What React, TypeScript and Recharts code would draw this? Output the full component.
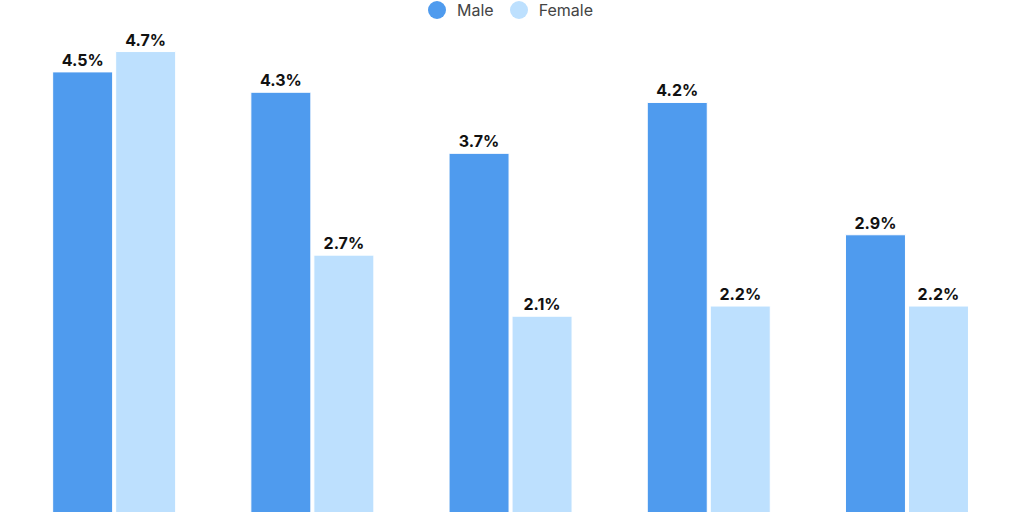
import React from 'react';
import { BarChart, Bar, XAxis, YAxis, Legend, LabelList } from 'recharts';

const MALE = '#4f9bee';
const FEMALE = '#bde0fe';

const groups = ['Group 1', 'Group 2', 'Group 3', 'Group 4', 'Group 5'];
const maleRates = [4.5, 4.3, 3.7, 4.2, 2.9];
const femaleRates = [4.7, 2.7, 2.1, 2.2, 2.2];
const seriesNames = ['Male', 'Female'];
const seriesColors = [MALE, FEMALE];

const rows = groups.map((g, i) => ({ group: g, Male: maleRates[i], Female: femaleRates[i] }));

const pct = (v: number) => `${v.toFixed(1)}%`;

// legend kept in series order (Recharts sorts it by name otherwise)
function SeriesLegend() {
  return (
    <div style={{ display: 'flex', justifyContent: 'center', alignItems: 'center', height: 20, fontSize: 16, color: '#444' }}>
      {seriesNames.map((name, i) => (
        <div key={name} style={{ display: 'flex', alignItems: 'center', marginRight: i === 0 ? 16 : 0 }}>
          <svg width={18} height={18} style={{ marginRight: 11 }}>
            <circle cx={9} cy={9} r={9} fill={seriesColors[i]} />
          </svg>
          <span>{name}</span>
        </div>
      ))}
    </div>
  );
}

export default function App() {
  return (
    <div style={{ position: 'absolute', left: 0, top: 0, width: 1024, height: 512, overflow: 'hidden', fontFamily: 'Inter, sans-serif' }}>
      <BarChart
        width={1024}
        height={540}
        data={rows}
        margin={{ top: 1, right: 18, left: 15, bottom: 10 }}
        barCategoryGap="19%"
        barGap={3}
      >
        <XAxis dataKey="group" hide />
        <YAxis hide domain={[0, 5]} />
        <Legend verticalAlign="top" align="center" content={<SeriesLegend />} wrapperStyle={{ top: 0, height: 20 }} />
        <Bar dataKey="Male" fill={MALE} stroke="#ffffff" strokeWidth={1} isAnimationActive={false}>
          <LabelList dataKey="Male" position="top" offset={6} formatter={pct} fill="#111" fontSize={16} fontWeight={700} />
        </Bar>
        <Bar dataKey="Female" fill={FEMALE} stroke="#ffffff" strokeWidth={1} isAnimationActive={false}>
          <LabelList dataKey="Female" position="top" offset={6} formatter={pct} fill="#111" fontSize={16} fontWeight={700} />
        </Bar>
      </BarChart>
    </div>
  );
}
